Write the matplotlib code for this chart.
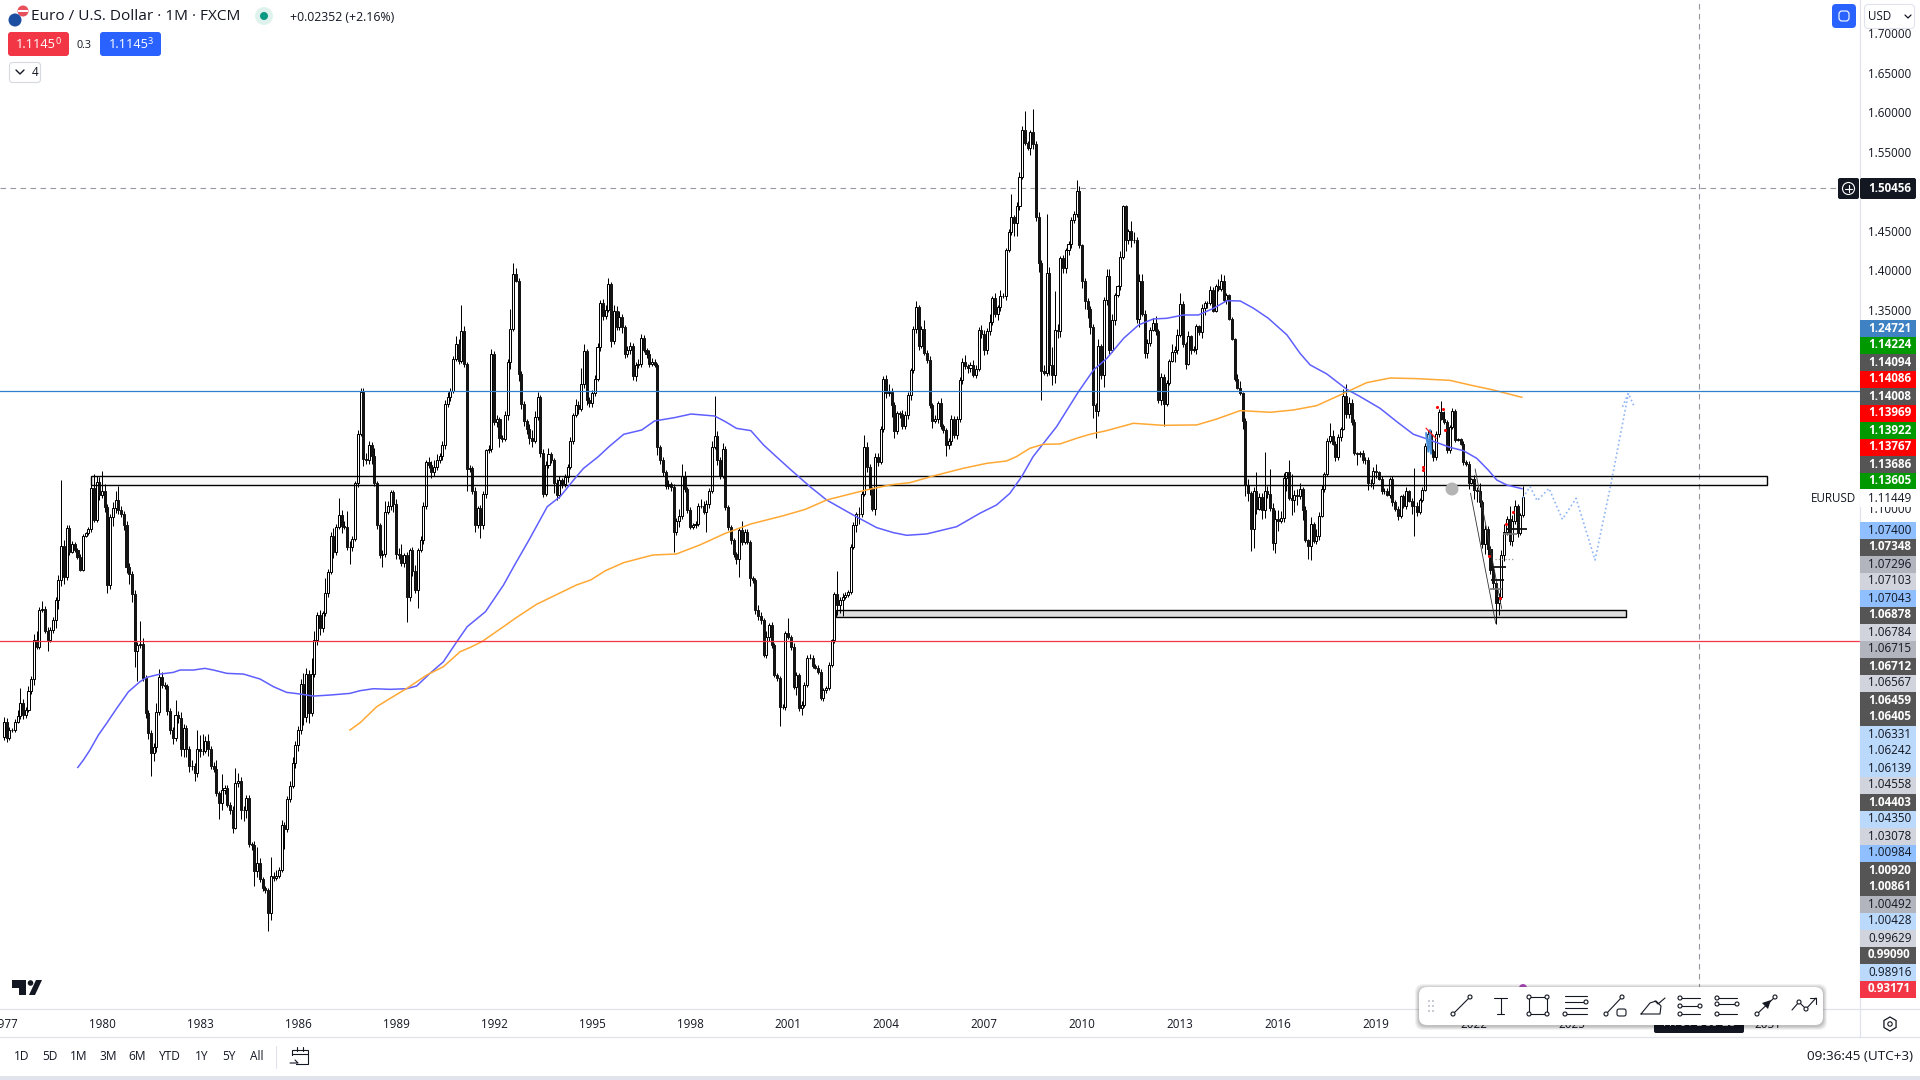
import numpy as np
import matplotlib
matplotlib.use("Agg")
import matplotlib.pyplot as plt
from matplotlib.patches import Rectangle, FancyBboxPatch, Circle, Polygon, RegularPolygon

plt.rcParams['font.family'] = ['Open Sans', 'DejaVu Sans']

# monthly closes, one row per year, Jan 1977 -> Jul 2023
closes = [
    .830, .810, .819, .819, .830, .837, .854, .838, .845, .869, .884, .933,
    .925, .971, .973, .944, .933, .946, .959, .984, 1.009, 1.052, 1.013, 1.075,
    1.045, 1.055, 1.047, 1.038, 1.022, 1.065, 1.068, 1.073, 1.125, 1.085, 1.133, 1.116,
    1.122, 1.101, 1.003, 1.089, 1.100, 1.110, 1.097, 1.092, 1.078, 1.026, 1.016, .991,
    .919, .927, .928, .885, .841, .816, .790, .798, .842, .887, .877, .875,
    .843, .820, .810, .839, .835, .795, .822, .795, .774, .774, .765, .795,
    .793, .793, .806, .795, .774, .770, .740, .727, .744, .746, .725, .718,
    .696, .753, .755, .719, .718, .734, .675, .674, .642, .652, .631, .620,
    .618, .588, .635, .633, .635, .643, .700, .694, .732, .749, .778, .801,
    .820, .878, .836, .890, .841, .890, .933, .965, .948, .967, .992, 1.019,
    1.065, 1.045, 1.076, 1.091, 1.077, 1.076, 1.051, 1.051, 1.061, 1.131, 1.194, 1.247,
    1.162, 1.160, 1.179, 1.166, 1.131, 1.078, 1.040, 1.042, 1.095, 1.103, 1.120, 1.105,
    1.042, 1.040, 1.030, 1.040, .988, 1.047, 1.020, .996, 1.047, 1.059, 1.103, 1.158,
    1.154, 1.145, 1.152, 1.160, 1.166, 1.179, 1.231, 1.240, 1.248, 1.288, 1.307, 1.286,
    1.324, 1.282, 1.149, 1.151, 1.122, 1.078, 1.100, 1.078, 1.118, 1.173, 1.175, 1.294,
    1.208, 1.212, 1.189, 1.187, 1.217, 1.284, 1.326, 1.395, 1.387, 1.269, 1.231, 1.210,
    1.200, 1.189, 1.185, 1.215, 1.240, 1.170, 1.118, 1.154, 1.168, 1.160, 1.131, 1.116,
    1.135, 1.130, 1.139, 1.152, 1.184, 1.217, 1.230, 1.225, 1.257, 1.298, 1.236, 1.233,
    1.245, 1.263, 1.303, 1.359, 1.343, 1.350, 1.383, 1.311, 1.349, 1.328, 1.341, 1.328,
    1.294, 1.300, 1.305, 1.267, 1.280, 1.282, 1.315, 1.300, 1.294, 1.282, 1.285, 1.280,
    1.177, 1.160, 1.145, 1.128, 1.130, 1.126, 1.070, 1.084, 1.090, 1.141, 1.124, 1.097,
    1.076, 1.078, 1.080, 1.103, 1.103, 1.095, 1.105, 1.122, 1.177, 1.191, 1.160, 1.141,
    1.175, 1.101, 1.076, 1.059, 1.042, 1.036, 1.072, 1.057, 1.070, 1.057, 1.011, 1.009,
    .971, .964, .958, .914, .937, .952, .927, .889, .885, .849, .849, .942,
    .937, .925, .874, .889, .847, .851, .877, .911, .911, .900, .898, .893,
    .860, .870, .872, .902, .933, .991, .977, .984, .988, .990, .994, 1.051,
    1.078, 1.092, 1.092, 1.118, 1.177, 1.152, 1.124, 1.099, 1.164, 1.158, 1.200, 1.263,
    1.245, 1.246, 1.230, 1.197, 1.220, 1.219, 1.203, 1.218, 1.243, 1.274, 1.326, 1.354,
    1.305, 1.326, 1.296, 1.287, 1.230, 1.210, 1.212, 1.232, 1.203, 1.198, 1.179, 1.184,
    1.213, 1.192, 1.212, 1.262, 1.285, 1.279, 1.277, 1.281, 1.268, 1.276, 1.325, 1.320,
    1.299, 1.323, 1.335, 1.365, 1.345, 1.354, 1.368, 1.368, 1.426, 1.448, 1.467, 1.460,
    1.482, 1.518, 1.578, 1.561, 1.555, 1.575, 1.560, 1.467, 1.410, 1.273, 1.270, 1.397,
    1.280, 1.268, 1.325, 1.324, 1.416, 1.403, 1.426, 1.434, 1.464, 1.472, 1.501, 1.432,
    1.387, 1.362, 1.351, 1.329, 1.230, 1.223, 1.305, 1.268, 1.363, 1.393, 1.299, 1.338,
    1.369, 1.380, 1.417, 1.481, 1.439, 1.450, 1.439, 1.439, 1.339, 1.387, 1.345, 1.296,
    1.308, 1.325, 1.334, 1.324, 1.237, 1.266, 1.231, 1.258, 1.286, 1.297, 1.299, 1.319,
    1.358, 1.307, 1.282, 1.317, 1.300, 1.301, 1.330, 1.322, 1.352, 1.359, 1.359, 1.375,
    1.349, 1.380, 1.377, 1.387, 1.363, 1.369, 1.339, 1.313, 1.263, 1.252, 1.245, 1.210,
    1.129, 1.119, 1.073, 1.122, 1.099, 1.114, 1.098, 1.121, 1.118, 1.100, 1.056, 1.086,
    1.083, 1.087, 1.138, 1.145, 1.113, 1.110, 1.117, 1.115, 1.124, 1.098, 1.059, 1.052,
    1.080, 1.058, 1.065, 1.090, 1.124, 1.143, 1.184, 1.191, 1.181, 1.164, 1.190, 1.200,
    1.241, 1.219, 1.232, 1.208, 1.169, 1.168, 1.169, 1.160, 1.160, 1.131, 1.132, 1.147,
    1.145, 1.137, 1.122, 1.122, 1.117, 1.137, 1.108, 1.099, 1.090, 1.115, 1.102, 1.121,
    1.109, 1.102, 1.103, 1.095, 1.110, 1.123, 1.178, 1.194, 1.172, 1.165, 1.193, 1.221,
    1.213, 1.208, 1.173, 1.202, 1.223, 1.186, 1.187, 1.181, 1.158, 1.156, 1.132, 1.137,
    1.123, 1.122, 1.107, 1.054, 1.073, 1.048, 1.022, 1.005, .980, .988, 1.041, 1.070,
    1.086, 1.058, 1.084, 1.102, 1.069, 1.091, 1.1145,
]
first_open = 0.811

# wick lengths above / below the body, in thousandths
wick_up = [
    6, 5, 4, 3, 3, 8, 18, 5, 4, 6, 4, 8,
    12, 4, 10, 3, 6, 4, 3, 3, 6, 83, 8, 3,
    4, 3, 2, 3, 4, 2, 2, 3, 6, 18, 8, 6,
    25, 8, 4, 3, 7, 12, 18, 5, 4, 6, 4, 5,
    6, 4, 29, 8, 4, 4, 3, 5, 12, 9, 6, 3,
    3, 4, 3, 18, 5, 7, 5, 4, 4, 8, 4, 24,
    18, 22, 6, 8, 4, 5, 12, 3, 20, 4, 4, 3,
    5, 19, 10, 5, 4, 3, 4, 3, 5, 20, 6, 3,
    3, 2, 24, 5, 8, 4, 6, 3, 4, 6, 8, 5,
    5, 6, 14, 8, 5, 20, 12, 3, 6, 3, 20, 4,
    5, 10, 4, 22, 6, 6, 20, 7, 3, 3, 4, 5,
    5, 8, 6, 4, 10, 3, 3, 5, 14, 6, 3, 3,
    6, 8, 14, 3, 4, 3, 4, 8, 3, 6, 5, 3,
    6, 5, 8, 8, 3, 5, 6, 6, 3, 4, 10, 6,
    32, 6, 3, 3, 2, 5, 3, 4, 3, 2, 4, 7,
    4, 6, 3, 3, 5, 4, 25, 15, 8, 3, 4, 4,
    3, 6, 9, 7, 6, 3, 5, 5, 8, 3, 3, 5,
    5, 3, 4, 4, 6, 3, 8, 5, 20, 9, 3, 4,
    4, 5, 6, 4, 5, 6, 7, 3, 8, 6, 8, 4,
    3, 4, 5, 3, 4, 6, 5, 3, 2, 5, 4, 3,
    3, 3, 4, 3, 5, 3, 4, 3, 9, 14, 6, 3,
    4, 3, 3, 3, 8, 6, 5, 3, 8, 50, 6, 4,
    7, 3, 3, 3, 3, 3, 3, 12, 4, 4, 3, 3,
    3, 6, 4, 3, 8, 3, 4, 3, 3, 3, 3, 3,
    19, 3, 4, 4, 2, 5, 3, 3, 5, 3, 3, 4,
    3, 3, 3, 3, 2, 3, 30, 4, 4, 4, 3, 3,
    4, 3, 9, 3, 15, 6, 3, 3, 6, 5, 4, 4,
    5, 11, 5, 4, 3, 3, 5, 5, 3, 3, 4, 8,
    3, 4, 12, 4, 5, 3, 5, 3, 7, 3, 3, 5,
    4, 3, 4, 3, 4, 8, 3, 4, 6, 5, 4, 6,
    5, 4, 10, 3, 7, 3, 7, 4, 3, 5, 30, 3,
    4, 6, 4, 23, 3, 3, 29, 4, 7, 3, 7, 75,
    8, 23, 49, 7, 2, 4, 2, 3, 4, 3, 13, 6,
    2, 3, 3, 4, 3, 3, 8, 2, 4, 9, 9, 7,
    3, 2, 7, 2, 2, 3, 12, 10, 3, 8, 9, 5,
    6, 4, 6, 8, 2, 4, 3, 4, 2, 10, 5, 7,
    13, 3, 3, 6, 2, 3, 3, 1, 6, 2, 3, 6,
    4, 3, 9, 8, 7, 3, 1, 2, 2, 6, 8, 2,
    4, 7, 3, 4, 24, 5, 5, 50, 7, 31, 6, 12,
    11, 9, 6, 1, 16, 30, 6, 7, 7, 2, 5, 2,
    8, 2, 9, 5, 5, 3, 4, 16, 8, 4, 3, 2,
    9, 15, 8, 6, 5, 2, 3, 4, 4, 5, 5, 5,
    8, 2, 3, 3, 3, 2, 3, 2, 3, 2, 3, 6,
    2, 4, 47, 4, 2, 3, 4, 4, 5, 3, 4, 4,
    14, 10, 3, 3, 3, 2, 2, 2, 3, 2, 3, 1,
    5, 3, 9, 3, 6, 4, 4, 4, 2, 4, 6, 10,
    4, 17, 7, 8, 3, 3, 13,
]
wick_dn = [
    4, 5, 3, 2, 2, 2, 3, 4, 3, 3, 4, 8,
    3, 3, 3, 2, 14, 2, 4, 10, 12, 8, 9, 4,
    4, 2, 3, 3, 2, 2, 2, 2, 3, 3, 3, 6,
    4, 6, 10, 5, 12, 6, 4, 3, 6, 8, 12, 10,
    20, 38, 4, 4, 6, 8, 28, 10, 6, 3, 5, 4,
    4, 6, 8, 4, 6, 8, 9, 9, 8, 5, 10, 5,
    7, 5, 3, 8, 4, 3, 4, 20, 8, 5, 3, 5,
    6, 2, 5, 12, 14, 10, 3, 6, 20, 8, 3, 4,
    4, 22, 8, 4, 3, 3, 3, 25, 3, 4, 3, 6,
    8, 6, 10, 6, 12, 4, 3, 6, 8, 5, 3, 4,
    3, 8, 4, 3, 8, 3, 4, 22, 5, 3, 4, 3,
    9, 5, 5, 10, 3, 4, 3, 14, 4, 3, 5, 10,
    6, 4, 3, 5, 32, 5, 6, 4, 22, 3, 4, 4,
    4, 7, 4, 4, 3, 5, 4, 3, 5, 3, 2, 4,
    3, 4, 28, 3, 4, 8, 3, 16, 5, 6, 3, 4,
    3, 6, 12, 4, 3, 6, 8, 3, 2, 8, 6, 6,
    6, 8, 8, 3, 4, 6, 4, 3, 4, 3, 12, 6,
    4, 5, 3, 6, 3, 3, 2, 6, 3, 5, 6, 6,
    5, 3, 3, 5, 6, 4, 3, 8, 4, 3, 3, 7,
    5, 3, 5, 5, 6, 3, 4, 3, 4, 4, 3, 2,
    10, 4, 5, 4, 4, 4, 26, 4, 8, 4, 4, 3,
    3, 3, 3, 3, 3, 3, 25, 5, 3, 3, 6, 4,
    3, 3, 4, 4, 4, 7, 23, 4, 3, 3, 10, 4,
    5, 5, 5, 2, 3, 5, 4, 2, 4, 24, 3, 4,
    3, 4, 3, 10, 3, 9, 3, 3, 2, 2, 2, 3,
    3, 4, 4, 2, 3, 3, 12, 10, 21, 3, 2, 3,
    3, 8, 12, 3, 3, 6, 8, 3, 8, 5, 3, 4,
    6, 3, 15, 9, 4, 5, 3, 3, 5, 7, 3, 5,
    5, 3, 3, 4, 4, 9, 3, 5, 3, 3, 13, 4,
    5, 4, 5, 4, 5, 3, 6, 5, 3, 4, 3, 5,
    6, 4, 4, 4, 4, 7, 5, 3, 5, 3, 3, 17,
    16, 6, 2, 2, 3, 9, 6, 5, 12, 37, 2, 3,
    12, 13, 10, 9, 8, 6, 6, 7, 6, 4, 4, 4,
    9, 11, 11, 9, 16, 35, 7, 5, 15, 7, 5, 2,
    7, 3, 5, 3, 15, 6, 9, 4, 5, 10, 2, 7,
    6, 4, 2, 6, 4, 7, 27, 2, 3, 2, 13, 5,
    3, 4, 7, 1, 6, 3, 6, 3, 7, 8, 7, 3,
    2, 2, 3, 3, 3, 5, 1, 1, 2, 2, 2, 10,
    14, 10, 27, 24, 7, 2, 12, 11, 5, 4, 9, 13,
    12, 2, 5, 16, 3, 19, 15, 11, 4, 13, 2, 17,
    18, 2, 3, 6, 1, 4, 2, 2, 2, 5, 3, 6,
    2, 5, 5, 3, 2, 14, 3, 3, 5, 8, 5, 8,
    7, 2, 4, 4, 2, 5, 5, 3, 5, 3, 2, 3,
    2, 9, 38, 5, 3, 2, 2, 3, 3, 6, 4, 3,
    2, 2, 3, 3, 2, 3, 2, 2, 4, 3, 8, 2,
    12, 15, 6, 5, 12, 8, 5, 7, 27, 15, 3, 8,
    4, 5, 6, 4, 6, 3, 2,
]

# moving averages
blue_x = [1979.26, 1979.43, 1979.63, 1979.89, 1980.14, 1980.45, 1980.81, 1981.16, 1981.37, 1981.78,
          1982.18, 1982.39, 1982.80, 1983.15, 1983.41, 1983.82, 1984.33, 1984.84, 1985.25, 1985.65,
          1986.06, 1986.47, 1986.98, 1987.59, 1987.90, 1988.31, 1988.82, 1989.33, 1989.63, 1990.04,
          1990.45, 1990.86, 1991.18, 1991.74, 1992.29, 1992.63, 1993.07, 1993.63, 1994.02, 1994.52,
          1994.74, 1995.19, 1995.52, 1995.97, 1996.52, 1996.91, 1997.52, 1998.03, 1998.75, 1999.08,
          1999.42, 1999.86, 2000.25, 2000.64, 2001.09, 2001.67, 2002.18, 2002.99, 2003.71, 2004.22,
          2004.63, 2005.24, 2006.16, 2006.87, 2007.38, 2007.79, 2008.15, 2008.50, 2009.22, 2009.89,
          2010.35, 2010.76, 2011.27, 2011.73, 2012.18, 2012.59, 2013.10, 2013.56, 2014.02, 2014.43,
          2014.84, 2015.25, 2015.70, 2016.27, 2016.67, 2016.98, 2017.49, 2018.10, 2018.51, 2019.12,
          2019.63, 2020.14, 2020.50, 2021.26, 2021.67, 2022.08, 2022.43, 2022.69, 2023.00, 2023.46]
blue_y = [.7723, .7816, .7942, .8132, .8279, .8469, .8679, .8805, .8860, .8902,
          .8923, .8953, .8953, .8974, .8953, .8911, .8902, .8839, .8742, .8671,
          .8650, .8624, .8637, .8658, .8692, .8717, .8709, .8717, .8751, .8911,
          .9058, .9311, .9501, .9691, 1.0027, 1.0280, 1.0596, 1.1017, 1.1143, 1.1396,
          1.1501, 1.1648, 1.1775, 1.1931, 1.1985, 1.2099, 1.2141, 1.2187, 1.2162, 1.2091,
          1.2006, 1.1977, 1.1796, 1.1648, 1.1480, 1.1270, 1.1101, 1.0912, 1.0752, 1.0689,
          1.0655, 1.0672, 1.0764, 1.0933, 1.1038, 1.1185, 1.1396, 1.1649, 1.2028, 1.2470,
          1.2743, 1.2891, 1.3143, 1.3312, 1.3388, 1.3396, 1.3438, 1.3438, 1.3522, 1.3619,
          1.3615, 1.3522, 1.3396, 1.3186, 1.2954, 1.2807, 1.2693, 1.2499, 1.2407, 1.2259,
          1.2091, 1.1931, 1.1880, 1.1766, 1.1724, 1.1627, 1.1480, 1.1354, 1.1290, 1.1244]
orange_x = [1987.59, 1987.90, 1988.41, 1988.82, 1989.33, 1989.94, 1990.45, 1990.96, 1991.27, 1991.63,
            1992.29, 1992.68, 1993.30, 1993.85, 1994.52, 1994.96, 1995.41, 1995.97, 1996.86, 1997.58,
            1998.30, 1999.08, 1999.86, 2000.86, 2001.53, 2002.18, 2002.98, 2003.40, 2004.12, 2004.73,
            2005.44, 2006.36, 2007.08, 2007.69, 2007.99, 2008.40, 2008.81, 2009.32, 2009.83, 2010.24,
            2010.75, 2011.57, 2012.48, 2013.51, 2014.12, 2014.84, 2015.76, 2016.47, 2017.18, 2017.90,
            2018.71, 2019.43, 2020.24, 2021.26, 2021.87, 2022.59, 2023.46]
orange_y = [.8195, .8287, .8490, .8595, .8721, .8890, .8995, .9184, .9239, .9312,
            .9501, .9615, .9783, .9893, 1.0027, 1.0091, 1.0208, 1.0310, 1.0406, 1.0419,
            1.0533, 1.0680, 1.0798, 1.0903, 1.0983, 1.1101, 1.1185, 1.1228, 1.1291, 1.1320,
            1.1404, 1.1501, 1.1564, 1.1594, 1.1649, 1.1754, 1.1804, 1.1809, 1.1880, 1.1931,
            1.1977, 1.2070, 1.2044, 1.2049, 1.2124, 1.2230, 1.2209, 1.2238, 1.2293, 1.2428,
            1.2583, 1.2642, 1.2634, 1.2612, 1.2554, 1.2490, 1.2398]

# dotted forecast path
path_x = [2023.49, 2023.71, 2023.93, 2024.29, 2024.70, 2025.12, 2025.70, 2026.18, 2026.72]
path_y = [1.1130, 1.1269, 1.1092, 1.1248, 1.0857, 1.1122, 1.0343, 1.1290, 1.2448]

# hand drawings around 2020-2023
channel_x = [[2022.03, 2022.84], [2021.89, 2022.66]]
channel_y = [[1.1492, .9732], [1.1185, .9543]]
scribble_x = [2020.53, 2020.60, 2020.65, 2020.68]
scribble_y = [1.1943, 1.1711, 1.1985, 1.1690]
red_dash_x = [2020.53, 2020.83]
red_dash_y = [1.2006, 1.1880]
red_dot_x = [2020.87, 2021.04, 2021.11, 2020.44, 2020.44, 2022.97, 2023.20, 2022.45, 2022.79]
red_dot_y = [1.2280, 1.2250, 1.1985, 1.1514, 1.1480, 1.0798, 1.0953, 1.0394, .9859]
level_x0 = [2022.47, 2022.52, 2023.0]
level_x1 = [2022.97, 2022.90, 2023.62]
level_y = [1.0259, 1.0090, 1.0730]
grey_x0 = [2022.47, 2022.89]
grey_x1 = [2022.85, 2023.30]
grey_y = [.9977, 1.0672]
dotted_x = [2022.64, 2023.2]
dotted_y = [1.0360, 1.0360]

# zones and levels
zone1 = (1979.66, 2030.97, 1.1290, 1.1401)
zone2 = (2002.47, 2026.65, .9623, .9711)
blue_level = 1.24721
red_level = .93171
cross_price = 1.50456
cross_year = 2028.87

# axis text
year_ticks = list(range(1977, 2032, 3))
price_ticks = [1.70, 1.65, 1.60, 1.55, 1.45, 1.40, 1.35, 1.10]

stack_top = ["1.24721", "1.14224", "1.14094", "1.14086", "1.14008",
             "1.13969", "1.13922", "1.13767", "1.13686", "1.13605"]
stack_top_bg = ["#3f82c4", "#009900", "#555555", "#ff0000", "#555555",
                "#ff0000", "#009900", "#ff0000", "#555555", "#009900"]
stack_low = ["1.07400", "1.07348", "1.07296", "1.07103", "1.07043", "1.06878", "1.06784",
             "1.06715", "1.06712", "1.06567", "1.06459", "1.06405", "1.06331", "1.06242",
             "1.06139", "1.04558", "1.04403", "1.04350", "1.03078", "1.00984", "1.00920",
             "1.00861", "1.00492", "1.00428", "0.99629", "0.99090", "0.98916", "0.93171"]
stack_low_bg = ["#90bfff", "#555555", "#b2b5be", "#d1d4dc", "#90bfff", "#555555", "#d1d4dc",
                "#b2b5be", "#555555", "#d1d4dc", "#555555", "#555555", "#bbd9fb", "#bbd9fb",
                "#bbd9fb", "#d1d4dc", "#555555", "#bbd9fb", "#d1d4dc", "#90bfff", "#555555",
                "#555555", "#b2b5be", "#bbd9fb", "#d1d4dc", "#555555", "#bbd9fb", "#f23645"]
range_labels = ["1D", "5D", "1M", "3M", "6M", "YTD", "1Y", "5Y", "All"]

closes = np.array(closes)
up = np.array(wick_up) / 1000
dn = np.array(wick_dn) / 1000
opens = np.r_[first_open, closes[:-1]]
years = 1977 + np.arange(len(closes)) / 12
tops = np.maximum(opens, closes)
bottoms = np.minimum(opens, closes)
rising = closes >= opens

fig = plt.figure(figsize=(19.2, 10.8), dpi=100, facecolor="white")
ax = fig.add_axes([0, 1 - 1009 / 1080, 1860 / 1920, 1009 / 1080])
ax.set_xlim(1976.878, 2033.81)
ax.set_ylim(0.4671, 1.7417)
for s in ax.spines.values():
    s.set_visible(False)

# candles
ax.vlines(years, bottoms - dn, tops + up, color="#000000", lw=0.72, zorder=2)
ax.bar(years[rising], (tops - bottoms)[rising], bottom=bottoms[rising], width=0.062,
       facecolor="white", edgecolor="#000000", linewidth=0.72, zorder=3)
ax.bar(years[~rising], (tops - bottoms)[~rising], bottom=bottoms[~rising], width=0.062,
       facecolor="#141414", edgecolor="#141414", linewidth=0.72, zorder=3)

# zones
for x0, x1, y0, y1, fill in [(*zone1, 0.025), (*zone2, 0.13)]:
    ax.add_patch(Rectangle((x0, y0), x1 - x0, y1 - y0, facecolor=(0, 0, 0, fill),
                           edgecolor="black", linewidth=1.0, zorder=4))

ax.plot(blue_x, blue_y, color="#5f5fff", lw=1.1, zorder=5)
ax.plot(orange_x, orange_y, color="#ffa834", lw=1.1, zorder=5)
ax.axhline(blue_level, color="#2f80cc", lw=0.9, zorder=5)
ax.axhline(red_level, color="#f23645", lw=0.9, zorder=5)
ax.axhline(cross_price, color="#9598a1", lw=0.8, ls=(0, (5, 4)), zorder=1)
ax.axvline(cross_year, color="#9598a1", lw=0.8, ls=(0, (5, 4)), zorder=1)

# forecast and small drawings
ax.plot(path_x, path_y, color="#8db4f5", lw=1.2, ls=(0, (1, 1.6)), zorder=5)
ax.plot([path_x[-1] - 0.18, path_x[-1], path_x[-1] + 0.16], [path_y[-1] - 0.017, path_y[-1], path_y[-1] - 0.015],
        color="#8db4f5", lw=1.2, ls=(0, (1, 1.6)), zorder=5)
for cx, cy in zip(channel_x, channel_y):
    ax.plot(cx, cy, color="#333333", lw=0.6, zorder=5)
ax.plot(scribble_x, scribble_y, color="#4a90d9", lw=1.5, zorder=6)
ax.plot(red_dash_x, red_dash_y, color="#ff2020", lw=0.9, zorder=6)
ax.scatter(red_dot_x, red_dot_y, s=5, color="#ff0000", linewidths=0, zorder=6)
ax.hlines(level_y, level_x0, level_x1, color="#111111", lw=1.3, zorder=6)
ax.hlines(grey_y, grey_x0, grey_x1, color="#777777", lw=1.2, zorder=6)
ax.plot(dotted_x, dotted_y, color="#999999", lw=0.9, ls=":", zorder=6)

# axes labels
ax.set_xticks(year_ticks)
ax.set_xticklabels([str(y) for y in year_ticks], fontsize=8.4, color="#131722")
ax.set_yticks(price_ticks)
ax.set_yticklabels(["%.5f" % p for p in price_ticks], fontsize=8.4, color="#131722")
ax.yaxis.tick_right()
ax.tick_params(axis="x", length=0, pad=6.5)
ax.tick_params(axis="y", length=0, pad=5.8)

# interface layer, in screen pixels
ui = fig.add_axes([0, 0, 1, 1])
ui.set_xlim(0, 1920)
ui.set_ylim(1080, 0)
ui.axis("off")
ui.patch.set_alpha(0)


def chip(x0, y0, w, h, color, edge="none", r=3, z=10):
    ui.add_patch(FancyBboxPatch((x0, y0), w, h, boxstyle="round,pad=0,rounding_size=%g" % r,
                                facecolor=color, edgecolor=edge, linewidth=0.8, zorder=z))


def knob(x, y, z=14):
    ui.add_patch(Circle((x, y), 2, facecolor="white", edgecolor="#131722", linewidth=0.8, zorder=z))


def seg(xs, ys, lw=0.8, color="#131722", z=13):
    ui.plot(xs, ys, color=color, lw=lw, zorder=z, solid_capstyle="round")


# frame lines
ui.plot([0, 1920], [1009, 1009], color="#e0e3eb", lw=0.9, zorder=1)
ui.plot([0, 1920], [1037, 1037], color="#e0e3eb", lw=0.9, zorder=1)
ui.plot([1860, 1860], [0, 1037], color="#e0e3eb", lw=0.9, zorder=1)
ui.add_patch(Rectangle((0, 1076), 1920, 4, facecolor="#e0e3eb", edgecolor="none"))

# price stacks
for i, (lab, bg) in enumerate(zip(stack_top, stack_top_bg)):
    yc = 328 + 17 * i
    ui.add_patch(Rectangle((1860, yc - 8.5), 56, 17, facecolor=bg, edgecolor="none", zorder=9))
    ui.text(1868, yc, lab, fontsize=8.4, color="white", fontweight="bold", va="center", ha="left", zorder=10)
ui.add_patch(Rectangle((1860, 489), 56, 18, facecolor="white", edgecolor="none", zorder=9))
ui.text(1868, 498, "1.11449", fontsize=8.4, color="#131722", va="center", ha="left", zorder=10)
ui.text(1856, 498, "EURUSD", fontsize=8.4, color="#131722", va="center", ha="right", zorder=10)
for i, (lab, bg) in enumerate(zip(stack_low, stack_low_bg)):
    yc = 530 + 17 * i
    light = bg in ("#90bfff", "#b2b5be", "#d1d4dc", "#bbd9fb")
    ui.add_patch(Rectangle((1860, yc - 8.5), 56, 17, facecolor=bg, edgecolor="none", zorder=9))
    ui.text(1868, yc, lab, fontsize=8.4, color="#131722" if light else "white",
            fontweight="normal" if light else "bold", va="center", ha="left", zorder=10)

# crosshair tags
chip(1860, 178, 56, 21, "#131722", r=2)
ui.text(1868, 188.5, "1.50456", fontsize=8.4, color="white", fontweight="bold", va="center", zorder=11)
chip(1838, 178, 21, 21, "#131722", r=2)
ui.add_patch(Circle((1848.5, 188.5), 6, facecolor="none", edgecolor="white", linewidth=0.8, zorder=11))
seg([1845, 1852], [188.5, 188.5], color="white", z=12)
seg([1848.5, 1848.5], [185, 192], color="white", z=12)

# header
ui.add_patch(Circle((15, 20), 6.5, facecolor="#1c4fa0", zorder=10))
ui.add_patch(Circle((23, 11), 5.5, facecolor="#e8505b", zorder=9))
ui.add_patch(Rectangle((18, 10), 10, 2, facecolor="white", zorder=10))
ui.text(31, 17, "Euro / U.S. Dollar · 1M · FXCM", fontsize=11.1, color="#131722", va="center", zorder=10)
ui.add_patch(Circle((264, 16), 9, facecolor="#e0f2ee", zorder=10))
ui.add_patch(Circle((264, 16), 4, facecolor="#089981", zorder=11))
ui.text(290, 17.5, "+0.02352 (+2.16%)", fontsize=8.8, color="#131722", va="center", zorder=10)
chip(8, 32, 61, 24, "#f23645")
ui.text(16, 45, "1.1145", fontsize=9.2, color="white", va="center", zorder=11)
ui.text(55, 42, "0", fontsize=6.6, color="white", va="center", zorder=11)
ui.text(84, 45, "0.3", fontsize=7.8, color="#131722", va="center", ha="center", zorder=11)
chip(100, 32, 61, 24, "#2962ff")
ui.text(109, 45, "1.1145", fontsize=9.2, color="white", va="center", zorder=11)
ui.text(148, 42, "3", fontsize=6.6, color="white", va="center", zorder=11)
chip(9.5, 62.5, 31, 20, "white", edge="#d6d9e0")
seg([16, 20, 24], [70, 74, 70], lw=1.0)
ui.text(32, 73, "4", fontsize=8.4, color="#131722", va="center", zorder=11)

# top right buttons
chip(1832, 4, 24, 24, "#2962ff", r=4)
chip(1839, 11, 10, 10, "none", edge="white", r=3, z=11)
chip(1864.5, 4.5, 50, 24, "white", edge="#e0e3eb", r=4)
ui.text(1868, 17, "USD", fontsize=8.4, color="#131722", va="center", zorder=11)
seg([1905, 1908, 1911], [15, 18, 15], lw=0.9)

# logo
ui.add_patch(Polygon([(12, 980), (26, 980), (26, 995), (18.5, 995), (18.5, 987.5), (12, 987.5)],
                     facecolor="#131722", zorder=10))
ui.add_patch(Circle((30.5, 983), 2.8, facecolor="#131722", zorder=10))
ui.add_patch(Polygon([(29, 995), (36, 980), (42, 980), (35, 995)], facecolor="#131722", zorder=10))

# alarm marker and hidden purple marker under the toolbar
ui.add_patch(Circle((1452, 489), 6.5, facecolor="#b4b4b4", zorder=8))
ui.add_patch(Circle((1523, 988), 4, facecolor="#b04fc0", zorder=8))

# bottom bar
for lab, xc in zip(range_labels, [22, 50, 79, 108, 137, 170, 202, 229, 257]):
    ui.text(xc, 1057, lab, fontsize=8.6, color="#131722", va="center", ha="center", zorder=10)
seg([276, 276], [1046, 1068], color="#e0e3eb")
ui.add_patch(Rectangle((292, 1050), 16, 14, facecolor="none", edgecolor="#131722", linewidth=0.8, zorder=10))
seg([292, 308], [1054, 1054])
seg([297, 297], [1047, 1051])
seg([303, 303], [1047, 1051])
ui.add_patch(Rectangle((288, 1056), 8, 10, facecolor="white", edgecolor="none", zorder=11))
seg([290, 298, 295], [1063, 1063, 1060], z=12)
ui.text(1913, 1057, "09:36:45 (UTC+3)", fontsize=9.7, color="#131722", va="center", ha="right", zorder=10)
ui.add_patch(RegularPolygon((1890, 1024), 6, radius=7, facecolor="none", edgecolor="#131722", linewidth=0.9, zorder=10))
ui.add_patch(Circle((1890, 1024), 2.2, facecolor="none", edgecolor="#131722", linewidth=0.8, zorder=10))

# date tag, mostly behind the toolbar
chip(1654, 1012, 90, 21, "#131722", r=2, z=7)
ui.text(1699, 1023, "Fri 01 Dec '28", fontsize=8.4, color="white", va="center", ha="center", zorder=7)

# drawing toolbar
for off, alpha in [(4, 0.05), (3, 0.06), (2, 0.07), (1, 0.08)]:
    ui.add_patch(FancyBboxPatch((1419 - off, 987 - off + 1), 404 + 2 * off, 38 + 2 * off,
                                boxstyle="round,pad=0,rounding_size=8",
                                facecolor=(0, 0, 0, alpha), edgecolor="none", zorder=8))
chip(1419, 987, 404, 38, "white", r=8, z=9)
for gx in (1429, 1433):
    for gy in (1001, 1006, 1011):
        ui.add_patch(Rectangle((gx - 1, gy - 1), 2, 2, facecolor="#c8cbd3", zorder=13))
# line
seg([1453, 1470], [1014, 997])
knob(1453, 1014)
knob(1470, 997)
# text tool
seg([1494, 1507], [998, 998])
seg([1500.5, 1500.5], [998, 1014])
seg([1497, 1504], [1014, 1014])
# rectangle
seg([1529, 1547, 1547, 1529, 1529], [997, 997, 1014, 1014, 997])
for kx, ky in [(1529, 997), (1547, 997), (1529, 1014), (1547, 1014)]:
    knob(kx, ky)
# channel
for ly in (996, 1002, 1008, 1014):
    seg([1565, 1587], [ly, ly])
knob(1586, 1002)
knob(1565, 1014)
# line and shape
seg([1606, 1622], [1014, 997])
knob(1606, 1014)
knob(1622, 997)
chip(1617, 1009, 9, 7, "white", edge="#131722", r=2, z=13)
# brush
seg([1641, 1650, 1656, 1661, 1660, 1641], [1014, 1003, 1001, 1006, 1014, 1014])
seg([1655, 1658, 1665], [1001, 1004, 998])
# fib tools
for fx, ys in [(1680, (998, 1006, 1014)), (1717, (998, 1004, 1014))]:
    for ly in ys:
        seg([fx, fx + 20], [ly, ly])
        knob(fx, ly)
    knob(fx + 20, ys[1])
# arrow
seg([1757, 1775], [1014, 997])
knob(1757, 1014)
knob(1775, 997)
ui.add_patch(Polygon([(1771, 1000), (1762, 1003), (1768, 1009)], facecolor="#131722", zorder=13))
# path
seg([1792, 1799, 1806, 1816], [1010, 1002, 1009, 998])
seg([1810, 1816, 1816], [998, 998, 1004])
knob(1799, 1002)
knob(1806, 1009)

fig.savefig("out.png", dpi=100, facecolor="white")
